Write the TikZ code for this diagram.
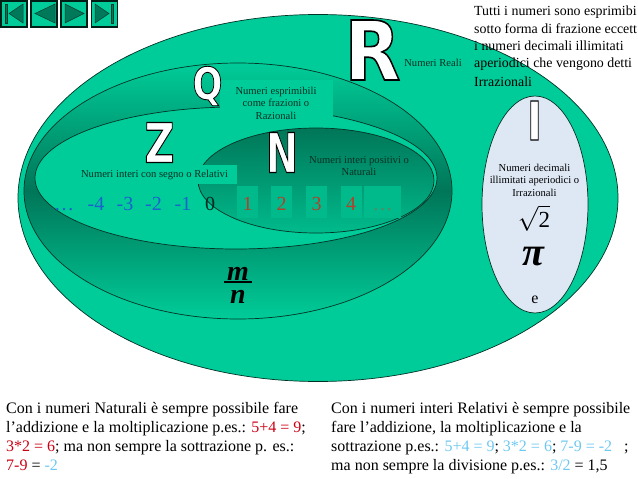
\documentclass[tikz,border=0pt]{standalone}
\usepackage{fontspec}
\usepackage{amsmath}
\usepackage{graphicx}
\usepackage{xcolor}
\usepackage{tikz}
\usetikzlibrary{shapes.geometric,positioning}
\setmainfont{Liberation Serif}
\newfontfamily\lettersans{DejaVu Sans}
\definecolor{setgreen}{RGB}{0,204,153}
\definecolor{setdark}{RGB}{0,118,88}
\definecolor{navdark}{RGB}{0,120,90}
\definecolor{setblue}{RGB}{222,232,245}
\definecolor{labelink}{RGB}{6,48,36}
\definecolor{numred}{RGB}{176,66,44}
\definecolor{numblue}{RGB}{28,98,204}
\definecolor{noteblue}{RGB}{110,200,240}
\definecolor{notered}{RGB}{204,0,20}
\definecolor{boxgreen}{RGB}{0,186,140}
\newcommand{\bigletter}[3]{\resizebox{#1pt}{#2pt}{\special{pdf:code q 0 0 0 RG 2 Tr 0.2 w}\lettersans\bfseries #3\special{pdf:code Q}}}

\begin{document}
\begin{tikzpicture}[
    x=1pt, y=-1pt,
    setellipse/.style={ellipse, draw=black!75!setgreen, line width=0.7pt, inner sep=0pt},
    labelbox/.style={rectangle, fill=setgreen, inner sep=0pt},
    numbox/.style={rectangle, fill=boxgreen, minimum width=21pt, minimum height=32pt, inner sep=0pt},
    navbtn/.style={rectangle, draw=black!85!setgreen, fill=setgreen, line width=1.1pt, minimum width=26pt, minimum height=26pt, inner sep=0pt},
    navicon/.style={fill=navdark, draw=black!70!setgreen, line width=0.5pt},
    label/.style={align=center, text=labelink, font=\fontsize{10.6}{12.5}\selectfont, inner sep=0pt},
    num/.style={font=\fontsize{20}{22}\selectfont, inner sep=0pt},
    frac/.style={inner sep=0pt, font=\fontsize{28}{30}\selectfont\bfseries\itshape},
    note/.style={align=left, anchor=north west, inner sep=0pt, font=\fontsize{16}{19}\selectfont},
    letter/.style={inner sep=0pt, text=white}
]
\useasboundingbox (0,0) rectangle (638,479);

\node[setellipse, fill=setgreen, minimum width=600pt, minimum height=367pt] (reali) at (318,198) {};
\node[setellipse, top color=setgreen, bottom color=setgreen, middle color=setdark, minimum width=428pt, minimum height=256pt] (razionali) at (238,191) {};
\node[setellipse, fill=setgreen, minimum width=402pt, minimum height=142pt] (relativi) at (236,178) {};
\node[setellipse, top color=setdark, bottom color=setgreen!80!setdark, minimum width=236pt, minimum height=105pt] (naturali) at (316,180.5) {};
\node[setellipse, fill=setblue, minimum width=106pt, minimum height=217pt] (irrazionali) at (535,204.5) {};

% fondi delle etichette
\node[labelbox, minimum width=113pt, minimum height=39pt] (boxraz) at (276.5,99.5) {};
\node[labelbox, minimum width=162pt, minimum height=19pt] (boxrel) at (156,174.5) {};
\node[numbox] (box1) at (247.5,202) {};
\node[numbox] (box2) at (281.5,202) {};
\node[numbox] (box3) at (316.5,202) {};
\node[numbox] (box4) at (351,202) {};
\node[numbox, minimum width=37pt] (boxdots) at (382.5,202) {};

% lettere
\node[letter] (letterR) at (372.5,50) {\bigletter{56}{60}{R}};
\node[letter] (letterQ) at (207.5,86) {\bigletter{30}{33}{Q}};
\node[letter] (letterZ) at (159.5,142.5) {\bigletter{30}{40}{Z}};
\node[letter] (letterN) at (282,152.5) {\bigletter{32}{40}{N}};
\node[letter] (letterI) at (534.5,120.5) {\bigletter{15}{39}{I}};

% etichette
\node[label] (lblreali) at (433,63) {Numeri Reali};
\node[label] (lblraz) at (276,103) {Numeri esprimibili\\come frazioni o\\Razionali};
\node[label] (lblrel) at (154.5,175) {Numeri interi con segno o Relativi};
\node[label] (lblnat) at (359,166) {Numeri interi positivi o\\Naturali};
\node[label, text=black] (lblirr) at (534.5,180) {Numeri decimali\\illimitati aperiodici o\\Irrazionali};

% numeri
\node[num, text=numblue] (ndots) at (64,210) {…};
\node[num, text=numblue] (nm4) at (96,204) {-4};
\node[num, text=numblue] (nm3) at (125,204) {-3};
\node[num, text=numblue] (nm2) at (153.5,204) {-2};
\node[num, text=numblue] (nm1) at (183,204) {-1};
\node[num, text=black!80!setgreen] (n0) at (210,204) {0};
\node[num, text=numred] (n1) at (247.5,204) {1};
\node[num, text=numred] (n2) at (281.5,204) {2};
\node[num, text=numred] (n3) at (316.5,204) {3};
\node[num, text=numred] (n4) at (351,204) {4};
\node[num, text=numred!50!setgreen] (pdots) at (382.5,210) {…};

\node[frac] (fracm) at (238,274) {m};
\node[fill=black, minimum width=28pt, minimum height=1.2pt, inner sep=0pt] (fracrule) at (238,282) {};
\node[frac] (fracn) at (238,297) {n};
\node[inner sep=0pt, font=\fontsize{23}{26}\selectfont] (radice) at (534,218) {$\sqrt{\text{2}}$};
\node[inner sep=0pt, font=\fontsize{40}{44}\selectfont\bfseries\itshape] (pigreco) at (533,257) {π};
\node[inner sep=0pt, font=\fontsize{16}{18}\selectfont] (nepero) at (535,300) {e};

% testi
\node[note, font=\fontsize{13.9}{17.2}\selectfont] (notairr) at (474,6) {Tutti i numeri sono esprimibi\\sotto forma di frazione eccett\\i numeri decimali illimitati\\aperiodici che vengono detti\\[2pt]Irrazionali};
\node[note] (notanat) at (6,402) {Con i numeri Naturali è sempre possibile fare\\l’addizione e la moltiplicazione p.es.: \textcolor{notered}{5+4 = 9};\\\textcolor{notered}{3*2 = 6}; ma non sempre la sottrazione p. es.:\\\textcolor{notered}{7-9} = \textcolor{noteblue}{-2}};
\node[note] (notarel) at (331,402) {Con i numeri interi Relativi è sempre possibile\\fare l’addizione, la moltiplicazione e la\\sottrazione p.es.: \textcolor{noteblue}{5+4 = 9}; \textcolor{noteblue}{3*2 = 6}; \textcolor{noteblue}{7-9 = -2}~~~;\\ma non sempre la divisione p.es.: \textcolor{noteblue}{3/2} = 1,5};

% pulsanti
\node[navbtn] (nav1) at (14,14) {};
\node[navbtn] (nav2) at (44,14) {};
\node[navbtn] (nav3) at (74,14) {};
\node[navbtn] (nav4) at (104.5,14) {};
\filldraw[navicon] (5,4) rectangle (7,23);
\filldraw[navicon] (9,13.5) -- (23,4) -- (23,23) -- cycle;
\filldraw[navicon] (35,13.5) -- (55,4) -- (55,23) -- cycle;
\filldraw[navicon] (84,13.5) -- (65,4) -- (65,23) -- cycle;
\filldraw[navicon] (109,13.5) -- (95,4) -- (95,23) -- cycle;
\filldraw[navicon] (111,4) rectangle (113,23);
\end{tikzpicture}
\end{document}
